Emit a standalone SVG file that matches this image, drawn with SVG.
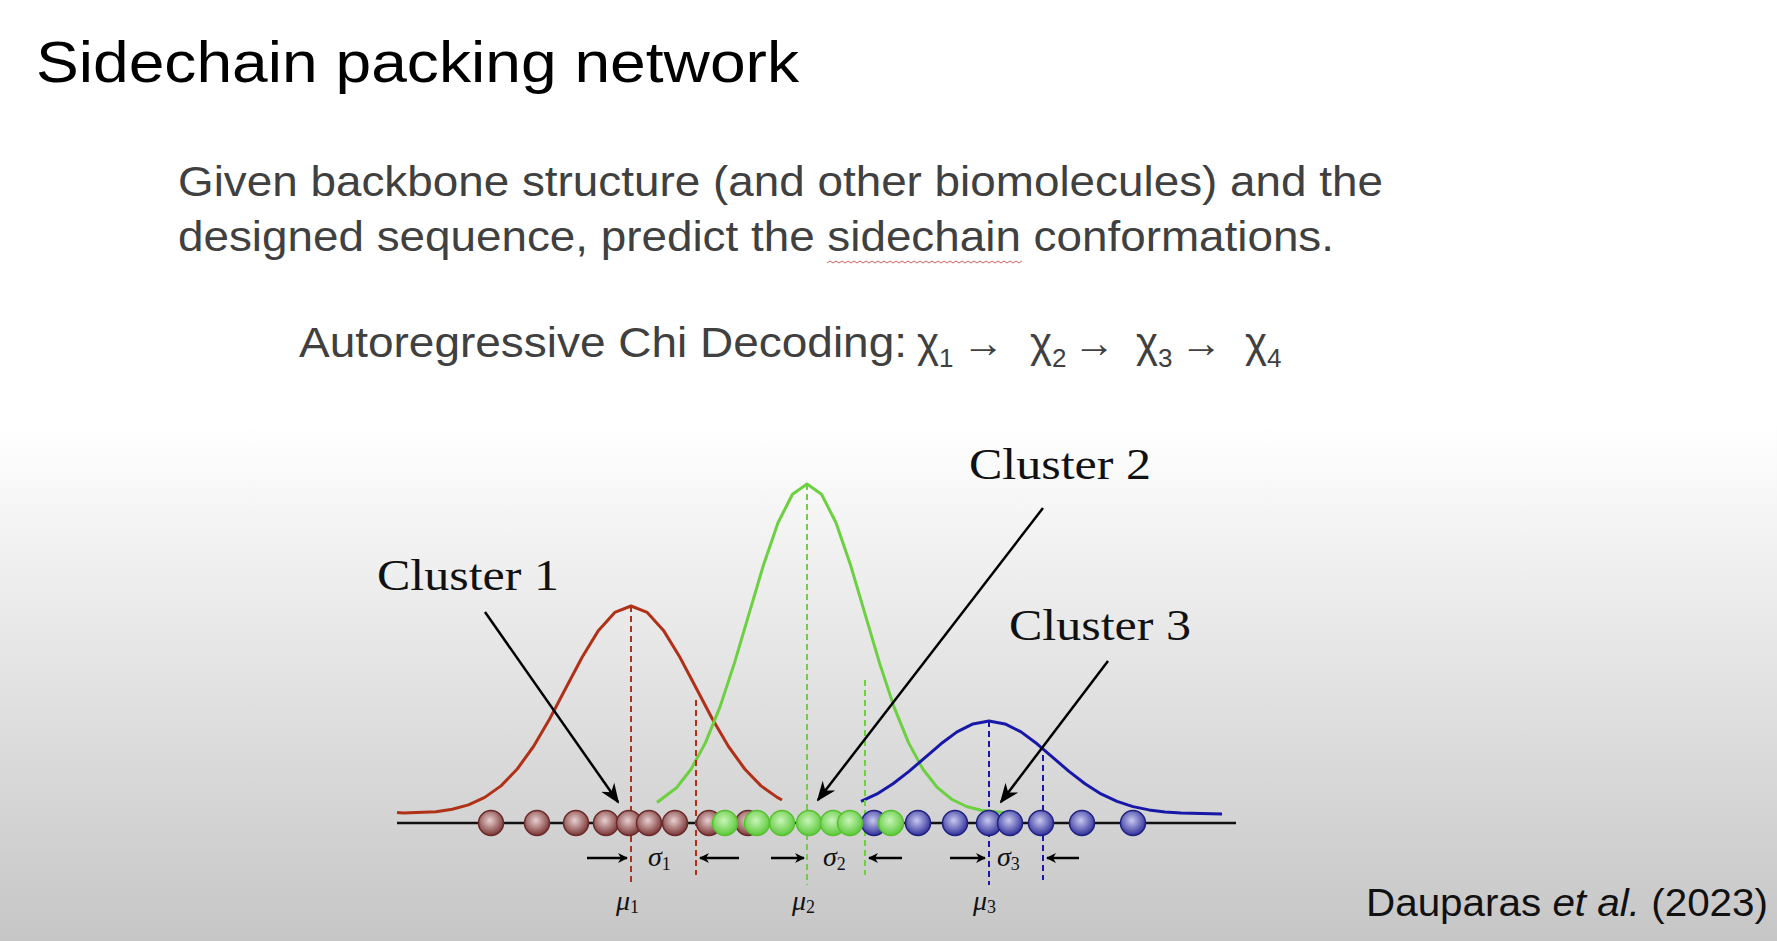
<svg xmlns="http://www.w3.org/2000/svg" width="1777" height="941" viewBox="0 0 1777 941">
<defs>
<linearGradient id="bg" x1="0" y1="0" x2="0" y2="1">
<stop offset="0" stop-color="#ffffff"/><stop offset="0.45" stop-color="#ffffff"/><stop offset="1" stop-color="#c6c6c6"/>
</linearGradient>
<radialGradient id="gr" cx="0.45" cy="0.4" r="0.6"><stop offset="0" stop-color="#e8d0d0"/><stop offset="1" stop-color="#7a3535"/></radialGradient>
<radialGradient id="gg" cx="0.45" cy="0.4" r="0.6"><stop offset="0" stop-color="#c8f5b8"/><stop offset="1" stop-color="#5cc83a"/></radialGradient>
<radialGradient id="gb" cx="0.45" cy="0.4" r="0.6"><stop offset="0" stop-color="#c8c8f0"/><stop offset="1" stop-color="#30309a"/></radialGradient>
<marker id="ah" viewBox="0 0 10 10" refX="9" refY="5" markerWidth="10" markerHeight="10" markerUnits="userSpaceOnUse" orient="auto"><path d="M0,0 L10,5 L0,10 L3,5 Z" fill="#000"/></marker>
<marker id="ahL" viewBox="0 0 10 10" refX="9" refY="5" markerWidth="20" markerHeight="20" markerUnits="userSpaceOnUse" orient="auto"><path d="M0,1 L10,5 L0,9 L3,5 Z" fill="#000"/></marker>
</defs>
<style>
.title{font-family:"Liberation Sans",Arial,sans-serif;font-size:58px;fill:#000}
.body{font-family:"Liberation Sans",Arial,sans-serif;font-size:42px;fill:#404040}
.serif{font-family:"Liberation Serif","Times New Roman",serif;fill:#111}
.lab{font-size:44px}
.math{font-style:italic;font-size:28px}
.curve{fill:none;stroke-width:3;stroke-linejoin:round}
.dash{stroke-width:2;stroke-dasharray:6 4}
.ptr{stroke:#000;stroke-width:2.5;fill:none;marker-end:url(#ahL)}
.sig{stroke:#000;stroke-width:2.5;marker-end:url(#ah)}
</style>
<rect width="1777" height="941" fill="url(#bg)"/>
<text class="title" x="36" y="82" textLength="763" lengthAdjust="spacingAndGlyphs">Sidechain packing network</text>
<g id="desc">
<text class="body" x="178" y="196" textLength="1205" lengthAdjust="spacingAndGlyphs">Given backbone structure (and other biomolecules) and the</text>
<text class="body" x="178" y="251" textLength="1156" lengthAdjust="spacingAndGlyphs">designed sequence, predict the sidechain conformations.</text>
<path d="M827,263 l3,-2 3,2 3,-2 3,2 3,-2 3,2 3,-2 3,2 3,-2 3,2 3,-2 3,2 3,-2 3,2 3,-2 3,2 3,-2 3,2 3,-2 3,2 3,-2 3,2 3,-2 3,2 3,-2 3,2 3,-2 3,2 3,-2 3,2 3,-2 3,2 3,-2 3,2 3,-2 3,2 3,-2 3,2 3,-2 3,2 3,-2 3,2 3,-2 3,2 3,-2 3,2 3,-2 3,2 3,-2 3,2 3,-2 3,2 3,-2 3,2 3,-2 3,2 3,-2 3,2 3,-2 3,2 3,-2 3,2 3,-2 3,2 3,-2" fill="none" stroke="#d06060" stroke-width="1"/>
<text class="body" x="299" y="357"><tspan textLength="608" lengthAdjust="spacingAndGlyphs">Autoregressive Chi Decoding:</tspan> <tspan x="917">χ</tspan><tspan dy="10" font-size="26">1</tspan><tspan dy="-10" x="962">→</tspan><tspan x="1030">χ</tspan><tspan dy="10" font-size="26">2</tspan><tspan dy="-10" x="1073">→</tspan><tspan x="1136">χ</tspan><tspan dy="10" font-size="26">3</tspan><tspan dy="-10" x="1180">→</tspan><tspan x="1245">χ</tspan><tspan dy="10" font-size="26">4</tspan></text>
</g>
<g id="axis"><line x1="397" y1="823" x2="1236" y2="823" stroke="#111" stroke-width="2.5"/></g>
<g id="curves">
<polyline class="curve" stroke="#b03018" points="397,812.5 403.5,813 436,811.7 452.25,809.3 468.5,804.9 484.75,797.4 501,785.9 517.25,769 533.5,746.5 549.75,718.8 566,687.8 582.25,657 598.5,630.4 614.75,612.4 631,606 647.25,612.4 663.5,630.4 679.75,657 696,687.8 712.25,718.8 728.5,746.5 744.75,769 761,785.9 777.25,797.4 782,800"/>
<polyline class="curve" stroke="#6cd040" points="657,802.5 676.5,787.7 691,769.3 705.5,742.6 720,706.9 734.5,662.9 749,613.9 763.5,564.9 778,522.8 792.5,494.2 807,484 821.5,494.2 836,522.8 850.5,564.9 865,613.9 879.5,662.9 894,706.9 908.5,742.6 923,769.3 937.5,787.7 952,799.5 966.5,806.5 981,810.3 1010,813.3"/>
<polyline class="curve" stroke="#1818a8" points="861,801.4 877,793.9 893,783.8 909,771.4 925,757.6 941,743.8 957,731.9 973,723.9 989,721 1005,723.9 1021,731.9 1037,743.8 1053,757.6 1069,771.4 1085,783.8 1101,793.9 1117,801.4 1133,806.6 1149,809.9 1165,811.9 1181,813 1222,814"/>
</g>
<g id="dashes">
<line class="dash" stroke="#b03018" x1="631" y1="606" x2="631" y2="885"/>
<line class="dash" stroke="#b03018" x1="696" y1="700" x2="696" y2="875"/>
<line class="dash" stroke="#6cd040" x1="807" y1="484" x2="807" y2="885"/>
<line class="dash" stroke="#6cd040" x1="865" y1="680" x2="865" y2="875"/>
<line class="dash" stroke="#1818a8" x1="989" y1="721" x2="989" y2="885"/>
<line class="dash" stroke="#1818a8" x1="1043" y1="755" x2="1043" y2="880"/>
</g>
<g id="balls" stroke-width="1.5">
<g fill="url(#gr)" stroke="#6a2a2a">
<circle cx="491" cy="823" r="12.5"/><circle cx="537" cy="823" r="12.5"/><circle cx="576" cy="823" r="12.5"/><circle cx="606" cy="823" r="12.5"/><circle cx="629" cy="823" r="12.5"/><circle cx="649" cy="823" r="12.5"/><circle cx="675" cy="823" r="12.5"/><circle cx="748" cy="823" r="12.5"/><circle cx="709" cy="823" r="12.5"/>
</g>
<g fill="url(#gb)" stroke="#202080"><circle cx="874" cy="823" r="12.5"/></g>
<g fill="url(#gg)" stroke="#58c030">
<circle cx="725" cy="823" r="12.5"/><circle cx="757" cy="823" r="12.5"/><circle cx="782" cy="823" r="12.5"/><circle cx="809" cy="823" r="12.5"/><circle cx="833" cy="823" r="12.5"/><circle cx="850" cy="823" r="12.5"/><circle cx="891" cy="823" r="12.5"/>
</g>
<g fill="url(#gb)" stroke="#202080">
<circle cx="918" cy="823" r="12.5"/><circle cx="955" cy="823" r="12.5"/><circle cx="989" cy="823" r="12.5"/><circle cx="1010" cy="823" r="12.5"/><circle cx="1041" cy="823" r="12.5"/><circle cx="1082" cy="823" r="12.5"/><circle cx="1133" cy="823" r="12.5"/>
</g>
</g>
<g id="labels">
<text class="serif lab" x="377" y="590" textLength="182" lengthAdjust="spacingAndGlyphs">Cluster 1</text>
<text class="serif lab" x="969" y="479" textLength="182" lengthAdjust="spacingAndGlyphs">Cluster 2</text>
<text class="serif lab" x="1009" y="640" textLength="182" lengthAdjust="spacingAndGlyphs">Cluster 3</text>
<text class="serif math" x="648" y="866">σ<tspan font-size="18" dy="4" font-style="normal">1</tspan></text>
<text class="serif math" x="823" y="866">σ<tspan font-size="18" dy="4" font-style="normal">2</tspan></text>
<text class="serif math" x="997" y="866">σ<tspan font-size="18" dy="4" font-style="normal">3</tspan></text>
<text class="serif math" x="616" y="910">μ<tspan font-size="18" dy="3" font-style="normal">1</tspan></text>
<text class="serif math" x="792" y="910">μ<tspan font-size="18" dy="3" font-style="normal">2</tspan></text>
<text class="serif math" x="973" y="910">μ<tspan font-size="18" dy="3" font-style="normal">3</tspan></text>
</g>
<g id="connectors">
<line class="ptr" x1="485" y1="612" x2="618" y2="802"/>
<line class="ptr" x1="1043" y1="508" x2="818" y2="800"/>
<line class="ptr" x1="1108" y1="661" x2="1001" y2="802"/>
<line class="sig" x1="587" y1="858" x2="627" y2="858"/>
<line class="sig" x1="739" y1="858" x2="700" y2="858"/>
<line class="sig" x1="771" y1="858" x2="804" y2="858"/>
<line class="sig" x1="902" y1="858" x2="869" y2="858"/>
<line class="sig" x1="950" y1="858" x2="985" y2="858"/>
<line class="sig" x1="1079" y1="858" x2="1047" y2="858"/>
</g>
<text x="1366" y="916" font-family="'Liberation Sans',Arial,sans-serif" font-size="38" fill="#111" textLength="402" lengthAdjust="spacingAndGlyphs">Dauparas <tspan font-style="italic">et al.</tspan> (2023)</text>
</svg>
